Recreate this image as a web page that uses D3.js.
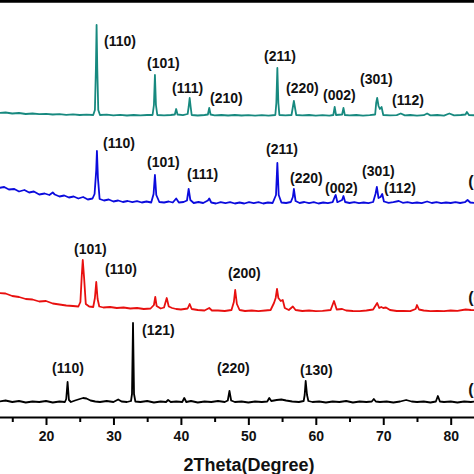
<!DOCTYPE html>
<html>
<head>
<meta charset="utf-8">
<script src="https://cdn.jsdelivr.net/npm/d3@7"></script>
<style>
  body { margin: 0; background: #fff; }
  svg { display: block; font-family: "Liberation Sans", Arial, sans-serif; }
</style>
</head>
<body>
<div id="chart"></div>
<script>
// 2theta (deg) vs intensity (a.u.)
const blackData = [[10,180],[11,170],[12,185],[13,165],[14,175],[15,160],[16,170],[17,155],[18,165],[19,160],[20,170],[21,155],[22,165],[22.8,160],[23.0,190],[23.2,360],[23.4,180],[23.7,160],[24.3,175],[25.0,190],[25.5,200],[26.0,195],[26.6,175],[27.3,165],[28,160],[29,170],[30,160],[30.7,185],[31.2,165],[32,160],[32.6,170],[32.75,240],[32.9,950],[33.05,240],[33.25,165],[34,160],[35,170],[36,155],[37,165],[37.8,160],[38.1,180],[38.5,160],[39.3,165],[40.2,160],[40.5,200],[40.8,160],[41.5,170],[42.5,155],[43.5,165],[44.5,160],[45.5,170],[46.5,160],[46.95,175],[47.2,270],[47.45,175],[48,160],[49,165],[50,155],[51,165],[52,160],[52.8,165],[53.1,200],[53.4,170],[54.2,180],[54.9,185],[55.6,175],[56.5,165],[57.5,160],[58.2,170],[58.35,230],[58.5,370],[58.7,230],[58.9,170],[59.5,160],[60.5,165],[61.5,155],[62.5,165],[63.5,160],[64.5,170],[65.5,155],[66.5,165],[67.5,160],[68.3,165],[68.6,190],[68.9,165],[69.5,160],[70.5,165],[71.5,155],[72.5,165],[73.4,180],[74.2,165],[75,160],[76,165],[77,155],[77.8,165],[78.1,220],[78.4,165],[79,160],[80,165],[81,155],[82,165],[83,160],[84,170],[85,160],[86,165],[88,160],[90,165]];

const redData = [[10,380],[11,370],[12,375],[13,350],[14,345],[15,320],[16,310],[17,290],[18,285],[19,265],[20,270],[21,245],[22,235],[23,225],[24,220],[24.8,215],[25.1,260],[25.3,520],[25.45,680],[25.65,500],[25.9,240],[26.4,215],[27.0,210],[27.25,300],[27.45,460],[27.65,290],[27.9,215],[28.5,205],[29.5,210],[30.5,200],[31.5,205],[32.5,195],[33.5,200],[34.5,190],[35.5,195],[36.0,230],[36.2,310],[36.4,220],[37.0,195],[37.5,205],[37.9,300],[38.2,215],[38.7,200],[39.3,190],[40,185],[41.0,195],[41.3,240],[41.6,190],[42.5,180],[43.5,175],[44.2,200],[44.6,175],[45.5,175],[46.5,170],[47.5,180],[47.85,260],[48.05,380],[48.3,240],[48.7,180],[49.5,170],[50.5,175],[51.5,168],[52.5,175],[53.3,180],[53.8,250],[54.05,300],[54.25,390],[54.45,300],[54.8,270],[55.1,280],[55.4,200],[56.0,180],[56.6,215],[57.0,180],[58,170],[59,175],[60,168],[61,172],[62.2,180],[62.7,270],[63.1,185],[63.9,190],[64.5,175],[65.5,170],[66.5,168],[67.5,175],[68.5,185],[69.1,250],[69.4,200],[69.7,210],[70.0,200],[70.4,205],[71,180],[72,170],[73,172],[74,168],[74.8,190],[75.0,230],[75.3,185],[76,175],[77,168],[78,172],[79,168],[80,175],[81,172],[82.2,185],[83,180],[84,178],[86,170],[88,175],[90,180]];

const blueData = [[10,340],[11,330],[12,345],[13,320],[13.8,330],[14.5,305],[15.3,310],[16,285],[16.8,300],[17.5,275],[18.2,285],[19,255],[19.8,265],[20.5,250],[21.0,275],[21.3,255],[22,235],[22.7,245],[23.4,225],[24.1,235],[24.8,215],[25.5,230],[26.2,205],[26.9,215],[27.2,260],[27.45,500],[27.55,690],[27.7,420],[27.95,210],[28.6,195],[29.3,205],[30,185],[30.7,195],[31.4,180],[32.1,190],[32.8,178],[33.5,188],[34.2,175],[34.9,185],[35.6,175],[35.95,260],[36.15,450],[36.35,250],[36.8,180],[37.5,175],[38.2,185],[38.8,175],[39.3,215],[39.7,175],[40.4,180],[40.9,195],[41.15,310],[41.4,200],[41.9,170],[42.6,180],[43.3,170],[44.0,195],[44.2,215],[44.5,175],[45.2,165],[45.9,178],[46.6,168],[47.3,178],[48,165],[48.7,175],[49.4,165],[50.1,178],[50.8,168],[51.5,178],[52.2,165],[52.9,175],[53.6,170],[54.1,250],[54.3,570],[54.5,250],[54.9,175],[55.6,170],[56.3,180],[56.6,230],[56.75,310],[57.0,190],[57.6,170],[58.3,180],[59,168],[59.7,178],[60.4,165],[61.1,175],[61.8,168],[62.5,178],[62.8,230],[62.95,250],[63.2,178],[63.9,200],[64.1,240],[64.35,180],[65,170],[65.7,178],[66.4,168],[67.1,175],[67.8,168],[68.5,180],[68.85,260],[69.05,330],[69.3,220],[69.6,230],[69.85,260],[70.1,185],[70.8,172],[71.5,178],[72.3,190],[72.9,172],[73.6,178],[74.3,168],[75,175],[75.7,168],[76.5,185],[77.2,170],[77.9,178],[78.6,168],[79.3,175],[80,170],[80.7,178],[81.4,170],[82.1,178],[82.5,200],[82.9,175],[83.6,170],[85,178],[87,170],[90,175]];

const tealData = [[10,215],[11,205],[12,212],[13,200],[14,205],[15,195],[16,200],[17,190],[18,195],[19,188],[20,192],[21,185],[22,188],[23,182],[24,186],[25,180],[26,184],[27.0,180],[27.25,230],[27.4,650],[27.5,1080],[27.6,650],[27.75,230],[28.0,180],[29,184],[30,176],[31,182],[32,175],[33,180],[34,176],[35,180],[35.8,180],[36.0,280],[36.15,580],[36.3,280],[36.5,180],[37.5,176],[38.5,180],[39.1,185],[39.3,240],[39.5,185],[40.3,178],[41.0,190],[41.15,260],[41.3,350],[41.45,260],[41.6,180],[42.5,175],[43.5,180],[44.0,185],[44.2,250],[44.4,185],[45,176],[46,180],[47,175],[48,180],[49,175],[50,178],[51,174],[52,178],[53,174],[54.0,180],[54.15,300],[54.3,650],[54.45,300],[54.6,180],[55.5,176],[56.4,180],[56.6,260],[56.75,320],[56.9,260],[57.1,180],[58,176],[59,180],[60,174],[61,178],[62,174],[62.6,180],[62.8,260],[63.0,180],[63.9,185],[64.1,250],[64.3,180],[65,176],[66,180],[67,174],[68,178],[68.8,185],[68.95,300],[69.1,350],[69.3,270],[69.5,240],[69.75,260],[70.0,180],[71,176],[72,178],[72.6,195],[73.2,176],[74,180],[75,174],[76,178],[76.5,195],[77,176],[78,180],[79,174],[79.8,195],[80.5,176],[81.5,180],[82.2,185],[82.4,210],[82.7,180],[84,176],[86,180],[88,176],[90,180]];

// vertical stacking offsets (a.u.) for each pattern, bottom to top
const offsets = [0, 900, 1980, 2850];

// peak indices: [label, 2theta, intensity]
const tealPeaks = [["(110)",28.6,870],["(101)",34.97,650],["(111)",38.68,400],["(210)",44.31,300],["(211)",52.32,720],["(220)",55.58,400],["(002)",61.07,330],["(301)",66.55,490],["(112)",71.3,280]];
const bluePeaks = [["(110)",28.45,720],["(101)",34.97,530],["(111)",40.9,410],["(211)",52.62,660],["(220)",56.18,370],["(002)",61.36,270],["(301)",66.85,440],["(112)",70.11,270]];
const redPeaks = [["(101)",24.15,740],["(110)",28.75,540],["(200)",46.98,500]];
const blackPeaks = [["(121)",34.23,830],["(110)",20.89,450],["(220)",45.35,450],["(130)",57.66,430]];

// sample tags at the right edge (cropped off like in the source figure)
const sampleTags = [["(d)",82.6,230],["(c)",82.6,250],["(b)",82.6,330]];

const majorTicks = [10, 20, 30, 40, 50, 60, 70, 80, 90];
const minorTicks = [15, 25, 35, 45, 55, 65, 75, 85];

const width = 474, height = 474;

const x = d3.scaleLinear().domain([10, 90]).range([-21.45, 518.15]);
const y = d3.scaleLinear().domain([0, 4180]).range([418, 0]);

const svg = d3.select("#chart")
  .append("svg")
  .attr("width", width)
  .attr("height", height);

// top frame edge (rest of the frame is cropped away)
svg.append("line")
  .attr("x1", 0).attr("x2", width)
  .attr("y1", 1.3).attr("y2", 1.3)
  .attr("stroke", "#000")
  .attr("stroke-width", 2.8);

const series = [
  { data: blackData, color: "#000000", peaks: blackPeaks },
  { data: redData, color: "#e8100f", peaks: redPeaks },
  { data: blueData, color: "#0b0bdd", peaks: bluePeaks },
  { data: tealData, color: "#17897f", peaks: tealPeaks }
];

series.forEach((s, i) => {
  const off = offsets[i];
  const line = d3.line()
    .x(d => x(d[0]))
    .y(d => y(d[1] + off));

  svg.append("path")
    .datum(s.data)
    .attr("fill", "none")
    .attr("stroke", s.color)
    .attr("stroke-width", 1.8)
    .attr("stroke-linejoin", "round")
    .attr("d", line);

  svg.append("g")
    .selectAll("text")
    .data(s.peaks)
    .join("text")
    .attr("x", d => x(d[1]))
    .attr("y", d => y(d[2] + off))
    .attr("font-size", 14)
    .attr("font-weight", "bold")
    .attr("fill", "#111")
    .text(d => d[0]);
});

svg.append("g")
  .selectAll("text")
  .data(sampleTags)
  .join("text")
  .attr("x", d => x(d[1]))
  .attr("y", (d, i) => y(d[2] + offsets[i]))
  .attr("font-size", 16)
  .attr("font-weight", "bold")
  .attr("fill", "#111")
  .text(d => d[0]);

// bottom axis: major + minor ticks
const axisY = 417;
const xAxis = svg.append("g")
  .attr("transform", `translate(0,${axisY})`)
  .call(d3.axisBottom(x).tickValues(majorTicks).tickSize(8).tickSizeOuter(0).tickPadding(6));

svg.append("g")
  .attr("transform", `translate(0,${axisY})`)
  .call(d3.axisBottom(x).tickValues(minorTicks).tickSize(5).tickSizeOuter(0).tickFormat(""))
  .call(g => g.select(".domain").remove());

svg.selectAll(".tick line").attr("stroke", "#000").attr("stroke-width", 2);
xAxis.select(".domain").attr("stroke", "#000").attr("stroke-width", 2);
xAxis.selectAll(".tick text")
  .attr("font-family", "'Liberation Sans', Arial, sans-serif")
  .attr("font-size", 14)
  .attr("font-weight", "bold")
  .attr("fill", "#111");

svg.append("text")
  .attr("x", 249)
  .attr("y", 471)
  .attr("text-anchor", "middle")
  .attr("font-size", 18)
  .attr("font-weight", "bold")
  .attr("fill", "#111")
  .text("2Theta(Degree)");
</script>
</body>
</html>
